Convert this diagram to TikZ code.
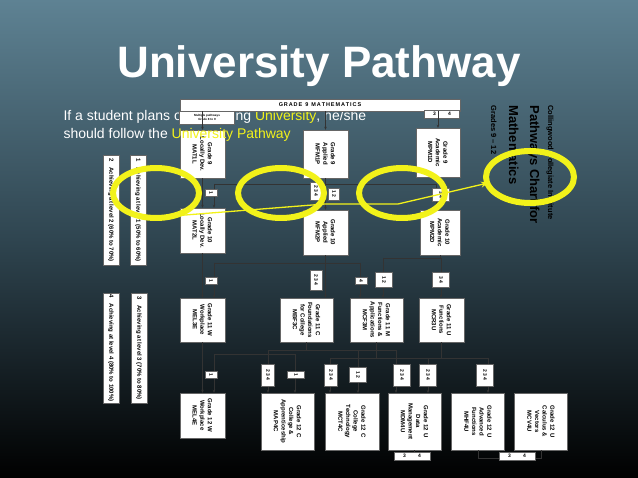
\documentclass[tikz,border=0pt]{standalone}
\usepackage{fontspec}
\setmainfont{Liberation Sans}
\usetikzlibrary{arrows.meta}
\definecolor{topc}{HTML}{5E8293}
\definecolor{midc}{HTML}{2F4550}
\definecolor{hl}{HTML}{F2F21A}
\tikzset{
 crs/.style={draw=black!60,fill=white,line width=0.4pt,inner sep=0pt},
 crstxt/.style={rotate=-90,align=center,font=\fontsize{6}{7.6}\selectfont\bfseries,text=black},
 tg/.style={draw=black!60,fill=white,inner sep=0pt,font=\fontsize{5}{5}\selectfont\bfseries},
 cn/.style={draw=black!80,line width=0.5pt},
 ca/.style={cn,-{Stealth[length=3pt,width=2.5pt]}},
 ring/.style={draw=hl,line width=6pt}
}
\newcommand{\crsbox}[5]{\node[crs,minimum width=#3,minimum height=#4] (#1) at (#2) {};\node[crstxt] at (#1) {#5};}
\newcommand{\ntg}[5]{\node[tg,minimum width=#3,minimum height=#4] (#1) at (#2) {};\node[rotate=-90,font=\fontsize{5}{5}\selectfont\bfseries] at (#1) {#5};}
\begin{document}
\begin{tikzpicture}[x=1pt,y=-1pt]
\shade[top color=topc,bottom color=black,middle color=midc] (0,0) rectangle (638,478);
\useasboundingbox (0,0) rectangle (638,478);
\node[text=white,font=\fontsize{44}{48}\selectfont\bfseries] (title) at (319,66) {University Pathway};
\node[anchor=west,text=white,font=\fontsize{14}{16}\selectfont] (l1) at (60,117) {If a student plans on attending \textcolor{hl}{University}, he/she};
% header
\node[crs,minimum width=280,minimum height=12] (hdr) at (320,105) {};
\node[font=\fontsize{5.5}{6}\selectfont\bfseries] at (hdr) {G\,R\,A\,D\,E\ \ 9\ \ M\,A\,T\,H\,E\,M\,A\,T\,I\,C\,S};
\node[crs,minimum width=55,minimum height=13] (mw) at (207,117.5) {};
\node[font=\fontsize{3}{3.6}\selectfont\bfseries,align=center] at (mw) {Multiple pathways\\Grade 8 to 9};
\node[tg,minimum width=35,minimum height=8] (t0) at (442,114) {3\hspace{12pt}4};
% courses
\crsbox{g9l}{202.5,154}{45}{48}{Grade 9\\Locally Dev.\\MAT1L}
\crsbox{g9p}{325.5,154}{45}{48}{Grade 9\\Applied\\MFM1P}
\crsbox{g9d}{438,152.5}{44}{49}{Grade 9\\Academic\\MPM1D}
\crsbox{g10l}{202.5,230.5}{45}{45}{Grade 10\\Locally Dev.\\MAT2L}
\crsbox{g10p}{325.5,232.5}{45}{45}{Grade 10\\Applied\\MFM2P}
\crsbox{g10d}{440,232.5}{40}{45}{Grade 10\\Academic\\MPM2D}
\crsbox{g11w}{202.5,320}{45}{44}{Grade 11 W\\Workplace\\MEL3E}
\crsbox{g11c}{306.5,320}{53}{44}{Grade 11 C\\Foundations\\for College\\MBF3C}
\crsbox{g11m}{376.5,320}{53}{44}{Grade 11 M\\Functions \&\\Applications\\MCF3M}
\crsbox{g11u}{441.5,320}{45}{44}{Grade 11 U\\Functions\\MCR3U}
\crsbox{g12w}{202.5,415.5}{45}{45}{Grade 12 W\\Workplace\\MEL4E}
\crsbox{g12ca}{287.5,421.5}{53}{57}{Grade 12 C\\College \&\\Apprenticeship\\MAP4C}
\crsbox{g12ct}{352,421.5}{54}{57}{Grade 12 C\\College\\Technology\\MCT4C}
\crsbox{g12dm}{414.5,421.5}{53}{57}{Grade 12 U\\Data\\Management\\MDM4U}
\crsbox{g12af}{478,421.5}{53}{57}{Grade 12 U\\Advanced\\Functions\\MHF4U}
\crsbox{g12cv}{541,421.5}{53}{57}{Grade 12 U\\Calculus \&\\Vectors\\MCV4U}
% legend
\crsbox{lg1}{138,210}{16}{110}{1\quad Achieving at level 1 (50\% to 60\%)}
\crsbox{lg2}{111,210}{16}{110}{2\quad Achieving at level 2 (60\% to 70\%)}
\crsbox{lg3}{139,348}{16}{110}{3\quad Achieving at level 3 (70\% to 80\%)}
\crsbox{lg4}{111,348}{16}{110}{4\quad Achieving at level 4 (80\% to 100\%)}
% connectors
\draw[ca] (hdr.south -| g9l) -- (g9l.north);
\draw[ca] (hdr.south -| g9p) -- (g9p.north);
\draw[ca] (hdr.south -| g9d) -- (g9d.north);
\coordinate (b1l) at (214,184); \coordinate (b1r) at (436,184);
\draw[cn] (g9p.south) -- (g9p.south |- b1l);
\draw[cn] (g9d.south) -- (g9d.south |- b1l);
\draw[cn] (b1l) -- (b1r);
\draw[ca] (g9l.south) -- (g10l.north);
\draw[ca] (b1l) -- (b1l |- g10l.north);
\draw[ca] (g9p.south) -- (g10p.north);
\draw[ca] (b1r) -- (b1r |- g10d.north);
\coordinate (b2l) at (214,263); \coordinate (b2m) at (360,263); \coordinate (b2a) at (383,258); \coordinate (b2b) at (441,258);
\draw[cn] (g10p.south) -- (g10p.south |- b2l) (b2l) -- (b2m);
\draw[cn] (g10d.south) -- (g10d.south |- b2a) (b2a) -- (b2b);
\draw[ca] (g10l.south) -- (g11w.north);
\draw[ca] (b2l) -- (b2l |- g11w.north);
\draw[ca] (g10p.south) -- (g10p.south |- g11c.north);
\draw[ca] (b2m) -- (b2m |- g11m.north);
\draw[ca] (b2a) -- (b2a |- g11m.north);
\draw[ca] (b2b) -- (b2b |- g11u.north);
\coordinate (b3l) at (214,354); \coordinate (b3r) at (295,354);
\coordinate (c1) at (268,350); \coordinate (c2) at (396,350);
\coordinate (d1) at (330,358); \coordinate (d2) at (488,358);
\draw[cn] (g11c.south) -- (g11c.south |- c1) (c1) -- (c2);
\draw[cn] (g11m.south) -- (g11m.south |- d1) (d1) -- (d2);
\draw[cn] (g11u.south) -- (g11u.south |- d1);
\draw[cn] (b3l) -- (b3r);
\draw[ca] (g11w.south) -- (g12w.north);
\draw[ca] (b3l) -- (b3l |- g12w.north);
\draw[ca] (c1) -- (c1 |- g12ca.north);
\draw[ca] (b3r) -- (b3r |- g12ca.north);
\draw[ca] (d1) -- (d1 |- g12ct.north);
\draw[ca] (c2) -- (c2 |- g12dm.north);
\draw[ca] (428,358) -- (428,393);
\draw[ca] (358,350) -- (358,393);
\draw[ca] (d2) -- (d2 |- g12af.north);
\draw[cn] (g12dm.south) -- ++(0,8);
\draw[cn] (g12af.south) -- ++(0,8) -| (g12cv.south);
% tags
\ntg{a1}{211,193}{12}{7}{1}
\ntg{a2}{316,191}{12}{18}{2\ 3\ 4}
\ntg{a3}{334,194}{11}{12}{1\ 2}
\ntg{a4}{441,195}{17}{13}{3\ 4}
\ntg{e1}{211,281}{12}{7}{1}
\ntg{e2}{316,280}{12}{20}{2\ 3\ 4}
\ntg{e3}{361,281}{12}{7}{4}
\ntg{e4}{384,280}{17}{15}{1\ 2}
\ntg{e5}{441,280}{17}{15}{3\ 4}
\ntg{f1}{211,375}{12}{7}{1}
\ntg{f2}{268,375}{13}{22}{2\ 3\ 4}
\ntg{f3}{296,375}{17}{7}{1}
\ntg{f4}{331,375}{13}{22}{2\ 3\ 4}
\ntg{f5}{358,375}{17}{15}{1\ 2}
\ntg{f6}{402,375}{17}{22}{2\ 3\ 4}
\ntg{f7}{428,375}{17}{22}{2\ 3\ 4}
\ntg{f8}{485,375}{17}{22}{2\ 3\ 4}
\node[tg,minimum width=36,minimum height=8] (h1) at (412,456) {3\hspace{12pt}4};
\node[tg,minimum width=36,minimum height=8] (h2) at (517,456) {3\hspace{12pt}4};
% right title
\node[rotate=-90,anchor=north west,text=black,align=left,font=\fontsize{7.5}{8}\selectfont\bfseries] (rt1) at (557,102) {Collingwood Collegiate Institute};
\node[rotate=-90,anchor=north west,text=black,align=left,font=\fontsize{13}{14}\selectfont\bfseries] (rt2) at (543,102) {Pathways Chart for};
\node[rotate=-90,anchor=north west,text=black,align=left,font=\fontsize{13}{14}\selectfont\bfseries] (rt3) at (522,102) {Mathematics};
\node[rotate=-90,anchor=north west,text=black,align=left,font=\fontsize{7.5}{8}\selectfont\bfseries] (rt4) at (500,102) {Grades 9 -- 12};
\node[anchor=west,text=white,font=\fontsize{14}{16}\selectfont] (l2) at (60,135) {should follow the \textcolor{hl}{University Pathway}};
% highlight rings
\draw[ring] (156,193) ellipse (43 and 25);
\draw[ring] (281,193) ellipse (43 and 25);
\draw[ring] (402,193) ellipse (43 and 25);
\draw[ring] (530,177) ellipse (44 and 26);
\coordinate (s0) at (160,217);
\draw[draw=hl,line width=1.3pt,-{Stealth[length=7pt,width=6pt]}] (s0) -- (325,204) -- (398,204) -- (488,183);
\end{tikzpicture}
\end{document}
